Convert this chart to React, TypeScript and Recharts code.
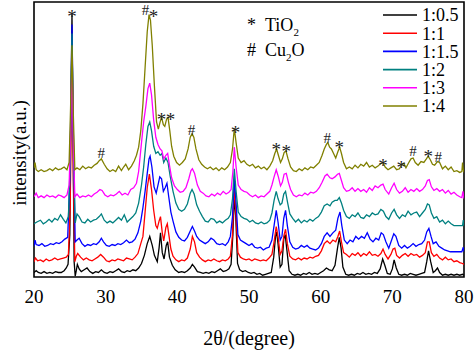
import { LineChart, Line, XAxis, YAxis, Scatter, ReferenceArea } from 'recharts'

// 2θ / intensity pairs (arbitrary units, offset stack)
const s05: [number, number][] = [
  [20, 5], [20.3, 7], [20.6, 5], [21, 4], [21.4, 6], [21.8, 4], [22.2, 5], [22.6, 4], [23, 6], [23.4, 5],
  [23.8, 5], [24.2, 7], [24.5, 10], [24.75, 14], [25, 47], [25.15, 187], [25.3, 292], [25.45, 157], [25.6, 17],
  [25.75, 1], [25.9, 7], [26.05, 14], [26.3, 9], [26.6, 6], [27, 8], [27.4, 10], [27.8, 6], [28.2, 4], [28.6, 6],
  [29, 5], [29.4, 8], [29.8, 5], [30.2, 4], [30.6, 6], [31, 5], [31.4, 7], [31.8, 9], [32.2, 6], [32.6, 5], [33, 7],
  [33.4, 6], [33.8, 8], [34.2, 7], [34.6, 10], [35, 15], [35.4, 24], [35.8, 37], [36.15, 45], [36.5, 35], [36.8, 24],
  [37.2, 17], [37.45, 32], [37.65, 49], [37.9, 27], [38.15, 20], [38.45, 35], [38.65, 39], [38.9, 22], [39.3, 13],
  [39.7, 8], [40.2, 5], [40.6, 6], [41, 5], [41.4, 7], [41.8, 10], [42.1, 14], [42.4, 11], [42.8, 6], [43.2, 5],
  [43.6, 4], [44, 5], [44.4, 4], [44.8, 6], [45.2, 5], [45.6, 7], [46, 9], [46.4, 6], [46.8, 7], [47.2, 9], [47.5, 14],
  [47.75, 47], [47.95, 90], [48.15, 67], [48.4, 15], [48.7, 8], [49.1, 6], [49.5, 7], [49.9, 5], [50.3, 4], [50.7, 5],
  [51.1, 3], [51.5, 4], [51.9, 2], [52.3, 3], [52.7, 4], [53.1, 5], [53.45, 22], [53.7, 45], [53.85, 50], [54.05, 37],
  [54.35, 11], [54.6, 14], [54.85, 42], [55.05, 47], [55.3, 29], [55.6, 7], [56, 3], [56.4, 2], [56.8, 3], [57.2, 2],
  [57.6, 4], [58, 3], [58.4, 5], [58.8, 3], [59.2, 4], [59.6, 3], [60, 5], [60.4, 7], [60.8, 10], [61.2, 8], [61.6, 7],
  [62, 13], [62.35, 32], [62.6, 44], [62.85, 32], [63.1, 11], [63.5, 3], [63.9, 2], [64.3, 3], [64.7, 2], [65.1, 4],
  [65.5, 3], [65.9, 5], [66.3, 3], [66.7, 4], [67.1, 3], [67.5, 5], [67.9, 4], [68.3, 9], [68.65, 20], [68.95, 13],
  [69.3, 4], [69.7, 3], [70, 9], [70.25, 19], [70.55, 10], [70.9, 3], [71.3, 2], [71.7, 3], [72.1, 2], [72.5, 4],
  [72.9, 3], [73.3, 2], [73.7, 3], [74.1, 4], [74.5, 5], [74.8, 17], [75.05, 29], [75.35, 17], [75.7, 5], [76, 7],
  [76.3, 10], [76.6, 5], [77, 2], [77.4, 3], [77.8, 2], [78.2, 3], [78.6, 2], [79, 3], [79.4, 2], [79.8, 3], [80, 2],
]

const s1: [number, number][] = [
  [20, 17], [20.2, 21], [20.5, 18], [20.9, 19], [21.3, 17], [21.7, 20], [22.1, 18], [22.5, 19], [22.9, 21], [23.3, 19],
  [23.7, 20], [24.1, 21], [24.5, 22], [24.8, 25], [25.05, 77], [25.3, 247], [25.5, 107], [25.7, 17], [25.9, 23],
  [26.1, 26], [26.5, 22], [26.9, 19], [27.3, 21], [27.7, 19], [28.1, 18], [28.5, 20], [28.9, 22], [29.3, 25], [29.7, 22],
  [30.1, 18], [30.5, 17], [30.9, 19], [31.3, 18], [31.7, 20], [32.1, 19], [32.5, 18], [32.9, 21], [33.3, 20], [33.7, 19],
  [34.1, 22], [34.5, 26], [34.9, 37], [35.2, 45], [35.5, 72], [35.8, 99], [36.1, 114], [36.4, 97], [36.7, 74], [37, 57],
  [37.2, 54], [37.45, 62], [37.65, 67], [37.9, 49], [38.1, 40], [38.4, 55], [38.6, 59], [38.85, 45], [39.1, 31],
  [39.4, 23], [39.8, 19], [40.2, 17], [40.6, 19], [41, 18], [41.4, 21], [41.8, 31], [42.1, 45], [42.4, 39], [42.7, 27],
  [43.1, 22], [43.5, 19], [43.9, 17], [44.3, 19], [44.7, 18], [45.1, 20], [45.5, 18], [45.9, 17], [46.3, 19], [46.7, 18],
  [47.1, 20], [47.4, 23], [47.7, 47], [47.95, 102], [48.2, 67], [48.45, 27], [48.8, 22], [49.2, 20], [49.6, 19], [50, 20],
  [50.4, 18], [50.8, 20], [51.2, 19], [51.6, 18], [52, 19], [52.4, 18], [52.8, 21], [53.2, 25], [53.5, 39], [53.8, 56],
  [54.05, 45], [54.35, 25], [54.6, 29], [54.85, 45], [55.1, 53], [55.35, 37], [55.7, 23], [56.1, 20], [56.5, 19],
  [56.9, 21], [57.3, 19], [57.7, 21], [58.1, 20], [58.5, 22], [58.9, 21], [59.3, 23], [59.7, 24], [60.1, 29], [60.5, 37],
  [60.9, 40], [61.3, 37], [61.7, 41], [62.1, 39], [62.4, 45], [62.65, 51], [62.9, 39], [63.2, 27], [63.6, 25], [64, 22],
  [64.4, 26], [64.8, 24], [65.2, 27], [65.6, 23], [66, 26], [66.4, 24], [66.8, 28], [67.2, 24], [67.6, 25], [68, 23],
  [68.4, 26], [68.7, 31], [69, 25], [69.4, 20], [69.8, 25], [70.1, 31], [70.35, 32], [70.6, 24], [71, 21], [71.4, 24],
  [71.8, 26], [72.2, 23], [72.6, 26], [73, 24], [73.4, 25], [73.8, 22], [74.2, 24], [74.6, 27], [74.9, 39], [75.15, 39],
  [75.45, 27], [75.8, 23], [76.2, 25], [76.6, 21], [77, 19], [77.4, 22], [77.8, 19], [78.2, 20], [78.6, 17], [79, 18],
  [79.4, 16], [79.8, 15], [80, 14],
]

const s15: [number, number][] = [
  [20, 34], [20.15, 41], [20.3, 36], [20.7, 35], [21.1, 37], [21.5, 34], [21.9, 35], [22.3, 37], [22.7, 36], [23.1, 38],
  [23.5, 37], [23.9, 39], [24.3, 42], [24.7, 44], [25, 107], [25.3, 280], [25.5, 157], [25.75, 39], [26, 41], [26.3, 43],
  [26.7, 37], [27.1, 34], [27.5, 36], [27.9, 35], [28.3, 37], [28.7, 36], [29.1, 39], [29.4, 43], [29.7, 39], [30.1, 35],
  [30.5, 34], [30.9, 36], [31.3, 35], [31.7, 37], [32.1, 36], [32.5, 38], [32.9, 41], [33.3, 38], [33.7, 39], [34.1, 42],
  [34.5, 49], [34.9, 62], [35.2, 77], [35.5, 95], [35.8, 115], [36.05, 131], [36.2, 134], [36.45, 122], [36.75, 100],
  [37.05, 93], [37.3, 102], [37.55, 111], [37.8, 109], [38.05, 95], [38.3, 99], [38.55, 104], [38.8, 89], [39.1, 72],
  [39.4, 62], [39.8, 50], [40.2, 44], [40.6, 41], [41, 40], [41.4, 44], [41.8, 51], [42.1, 56], [42.4, 51], [42.7, 45],
  [43.1, 41], [43.5, 39], [43.9, 37], [44.3, 39], [44.7, 43], [45.1, 41], [45.5, 37], [45.9, 36], [46.3, 37], [46.7, 35],
  [47.1, 39], [47.4, 45], [47.7, 67], [47.95, 109], [48.2, 82], [48.45, 47], [48.8, 41], [49.2, 39], [49.6, 37], [50, 35],
  [50.4, 37], [50.8, 33], [51.2, 32], [51.6, 33], [52, 30], [52.4, 32], [52.8, 33], [53.2, 41], [53.5, 57], [53.8, 74],
  [54.05, 61], [54.35, 41], [54.6, 45], [54.85, 65], [55.1, 74], [55.35, 57], [55.7, 39], [56.1, 33], [56.5, 31],
  [56.9, 32], [57.3, 35], [57.7, 33], [58.1, 35], [58.5, 32], [58.9, 31], [59.3, 30], [59.7, 32], [60.1, 37], [60.5, 45],
  [60.9, 49], [61.3, 45], [61.7, 49], [62.1, 52], [62.4, 65], [62.7, 72], [62.95, 57], [63.3, 41], [63.7, 37], [64.1, 41],
  [64.5, 39], [64.9, 45], [65.3, 42], [65.7, 45], [66.1, 43], [66.5, 49], [66.9, 42], [67.3, 39], [67.7, 43], [68.1, 41],
  [68.45, 49], [68.75, 47], [69.1, 39], [69.5, 32], [69.9, 41], [70.2, 48], [70.5, 45], [70.9, 35], [71.3, 32], [71.7, 35],
  [72.1, 32], [72.5, 34], [72.9, 37], [73.3, 34], [73.7, 36], [74.1, 37], [74.5, 41], [74.8, 50], [75.1, 54], [75.4, 45],
  [75.7, 37], [76.1, 39], [76.5, 34], [76.9, 32], [77.3, 30], [77.7, 29], [78.1, 28], [78.5, 28], [78.9, 28], [79.3, 28],
  [79.7, 28], [79.9, 33], [80, 28],
]

const s2: [number, number][] = [
  [20, 59], [20.4, 61], [20.9, 63], [21.3, 59], [21.7, 61], [22.1, 64], [22.5, 61], [22.9, 65], [23.3, 63], [23.7, 69],
  [24.1, 64], [24.45, 60], [24.8, 67], [25.05, 127], [25.3, 270], [25.5, 137], [25.75, 60], [26, 70], [26.3, 67],
  [26.7, 61], [27.1, 60], [27.5, 64], [27.9, 61], [28.3, 63], [28.7, 64], [29.1, 67], [29.4, 70], [29.8, 63], [30.2, 60],
  [30.6, 62], [31, 60], [31.4, 63], [31.8, 66], [32.2, 63], [32.6, 69], [33, 61], [33.4, 64], [33.8, 67], [34.2, 71],
  [34.6, 82], [35, 102], [35.3, 122], [35.6, 147], [35.9, 167], [36.15, 172], [36.4, 162], [36.7, 145], [37, 137],
  [37.3, 139], [37.6, 135], [37.85, 137], [38.1, 127], [38.4, 132], [38.7, 127], [39, 112], [39.4, 95], [39.8, 82],
  [40.2, 75], [40.6, 73], [41, 75], [41.4, 81], [41.8, 93], [42.05, 97], [42.35, 92], [42.7, 80], [43.1, 73], [43.5, 67],
  [43.9, 62], [44.3, 61], [44.7, 65], [45.1, 64], [45.5, 60], [45.9, 62], [46.3, 60], [46.7, 63], [47.1, 65], [47.4, 69],
  [47.7, 87], [47.95, 120], [48.2, 95], [48.5, 72], [48.9, 67], [49.3, 65], [49.7, 64], [50.1, 61], [50.5, 63], [50.9, 60],
  [51.3, 59], [51.7, 61], [52.1, 59], [52.5, 60], [52.9, 63], [53.2, 71], [53.5, 85], [53.8, 95], [54.05, 87], [54.35, 80],
  [54.6, 82], [54.85, 92], [55.1, 95], [55.4, 82], [55.7, 70], [56.1, 65], [56.5, 61], [56.9, 64], [57.3, 60], [57.7, 63],
  [58.1, 61], [58.5, 64], [58.9, 62], [59.3, 65], [59.7, 67], [60.1, 72], [60.5, 79], [60.9, 81], [61.3, 79], [61.6, 83],
  [62, 85], [62.3, 85], [62.6, 88], [62.9, 82], [63.2, 74], [63.6, 67], [64, 65], [64.4, 69], [64.8, 67], [65.2, 71],
  [65.6, 66], [66, 65], [66.4, 69], [66.8, 67], [67.2, 71], [67.6, 69], [68, 70], [68.4, 75], [68.75, 73], [69.1, 67],
  [69.5, 64], [69.9, 71], [70.25, 75], [70.6, 69], [71, 65], [71.4, 69], [71.8, 67], [72.2, 73], [72.6, 69], [73, 71],
  [73.4, 72], [73.8, 67], [74.2, 71], [74.6, 75], [74.9, 81], [75.15, 80], [75.45, 71], [75.8, 65], [76.2, 67], [76.6, 61],
  [77, 63], [77.4, 59], [77.8, 62], [78.2, 59], [78.6, 57], [79, 57], [79.4, 57], [79.8, 57], [79.9, 63], [80, 57],
]

const s3: [number, number][] = [
  [20, 89], [20.3, 93], [20.6, 88], [21, 90], [21.4, 88], [21.8, 91], [22.2, 89], [22.6, 90], [23, 88], [23.4, 91],
  [23.8, 90], [24.2, 88], [24.6, 91], [24.9, 102], [25.1, 157], [25.3, 242], [25.5, 147], [25.7, 89], [26, 92], [26.4, 88],
  [26.8, 90], [27.2, 89], [27.6, 91], [28, 89], [28.4, 92], [28.8, 94], [29.2, 97], [29.5, 96], [29.9, 91], [30.3, 89],
  [30.7, 91], [31.1, 90], [31.5, 92], [31.9, 95], [32.3, 91], [32.7, 93], [33.1, 91], [33.5, 97], [33.9, 99], [34.3, 104],
  [34.6, 117], [35, 149], [35.3, 172], [35.6, 189], [35.9, 209], [36.15, 215], [36.4, 202], [36.7, 174], [37, 155],
  [37.3, 147], [37.6, 142], [37.85, 140], [38.1, 131], [38.4, 135], [38.65, 137], [38.9, 124], [39.2, 110], [39.6, 101],
  [40, 97], [40.4, 94], [40.8, 95], [41.2, 99], [41.6, 109], [41.9, 118], [42.1, 120], [42.4, 115], [42.8, 102], [43.2, 95],
  [43.6, 93], [44, 90], [44.4, 89], [44.8, 92], [45.2, 90], [45.6, 93], [46, 91], [46.4, 95], [46.8, 92], [47.2, 94],
  [47.5, 97], [47.75, 117], [47.95, 144], [48.2, 122], [48.5, 102], [48.9, 97], [49.3, 95], [49.7, 94], [50.1, 91],
  [50.5, 89], [50.9, 91], [51.3, 88], [51.7, 90], [52.1, 89], [52.5, 92], [52.9, 95], [53.2, 102], [53.5, 111], [53.8, 119],
  [54.1, 111], [54.4, 101], [54.65, 105], [54.9, 114], [55.2, 115], [55.5, 105], [55.8, 97], [56.2, 91], [56.6, 89],
  [57, 91], [57.4, 90], [57.8, 93], [58.2, 91], [58.6, 94], [59, 93], [59.4, 95], [59.8, 99], [60.2, 105], [60.6, 112],
  [60.9, 114], [61.3, 110], [61.6, 109], [62, 111], [62.35, 114], [62.6, 115], [62.9, 107], [63.2, 99], [63.6, 95],
  [64, 96], [64.4, 99], [64.8, 95], [65.2, 98], [65.6, 95], [66, 97], [66.4, 94], [66.8, 99], [67.2, 96], [67.6, 101],
  [68, 99], [68.4, 102], [68.7, 103], [69, 97], [69.5, 92], [69.9, 99], [70.25, 104], [70.6, 97], [71, 93], [71.4, 95],
  [71.8, 99], [72.2, 94], [72.6, 97], [73, 95], [73.4, 98], [73.8, 95], [74.2, 97], [74.6, 101], [74.9, 107], [75.15, 108],
  [75.45, 100], [75.8, 96], [76.2, 98], [76.6, 95], [77, 97], [77.4, 93], [77.8, 96], [78.2, 92], [78.6, 94], [79, 91],
  [79.4, 89], [79.7, 88], [79.85, 95], [80, 87],
]

const s4: [number, number][] = [
  [20, 121], [20.15, 127], [20.3, 119], [20.6, 117], [21, 119], [21.4, 117], [21.8, 118], [22.2, 120], [22.6, 118],
  [23, 121], [23.4, 119], [23.8, 120], [24.2, 122], [24.6, 119], [24.9, 127], [25.1, 187], [25.3, 257], [25.5, 177],
  [25.7, 119], [26, 121], [26.4, 119], [26.8, 123], [27.2, 120], [27.6, 122], [28, 121], [28.4, 124], [28.8, 126],
  [29.1, 129], [29.4, 131], [29.8, 125], [30.2, 120], [30.6, 117], [31, 119], [31.4, 117], [31.8, 123], [32.2, 118],
  [32.5, 122], [32.8, 125], [33.2, 119], [33.6, 123], [34, 129], [34.3, 135], [34.6, 144], [34.9, 162], [35.2, 192],
  [35.5, 232], [35.8, 272], [36.05, 291], [36.25, 285], [36.5, 257], [36.8, 212], [37.1, 172], [37.35, 164], [37.6, 172],
  [37.8, 177], [38.05, 169], [38.25, 167], [38.5, 175], [38.7, 177], [38.95, 162], [39.2, 145], [39.5, 134], [39.9, 127],
  [40.3, 124], [40.7, 127], [41.1, 131], [41.5, 142], [41.8, 155], [42.05, 159], [42.3, 155], [42.6, 142], [43, 130],
  [43.4, 125], [43.8, 122], [44.2, 120], [44.6, 122], [45, 119], [45.4, 121], [45.8, 118], [46.2, 121], [46.6, 119],
  [47, 122], [47.4, 127], [47.7, 142], [47.95, 165], [48.2, 149], [48.5, 132], [48.9, 127], [49.3, 129], [49.7, 125],
  [50.1, 123], [50.5, 125], [50.9, 121], [51.3, 123], [51.7, 120], [52.1, 122], [52.5, 119], [52.9, 123], [53.3, 129],
  [53.6, 137], [53.85, 142], [54.1, 135], [54.4, 127], [54.65, 131], [54.9, 138], [55.15, 140], [55.45, 131], [55.8, 122],
  [56.2, 118], [56.6, 117], [57, 120], [57.4, 118], [57.8, 121], [58.2, 119], [58.6, 122], [59, 121], [59.4, 124],
  [59.8, 127], [60.2, 135], [60.5, 142], [60.8, 147], [61, 149], [61.25, 144], [61.5, 142], [61.8, 137], [62.1, 132],
  [62.4, 139], [62.65, 144], [62.9, 137], [63.2, 127], [63.6, 120], [64, 122], [64.4, 120], [64.8, 124], [65.2, 121],
  [65.6, 125], [66, 123], [66.4, 127], [66.8, 122], [67.2, 124], [67.6, 121], [68, 123], [68.4, 126], [68.7, 127],
  [69, 122], [69.4, 119], [69.8, 121], [70.2, 123], [70.6, 119], [71, 120], [71.3, 125], [71.6, 126], [71.9, 121],
  [72.3, 127], [72.6, 131], [72.9, 132], [73.2, 127], [73.6, 124], [74, 128], [74.4, 127], [74.75, 131], [75, 134],
  [75.3, 130], [75.6, 125], [75.9, 124], [76.3, 128], [76.6, 127], [77, 120], [77.4, 123], [77.8, 119], [78.2, 122],
  [78.6, 117], [79, 118], [79.4, 116], [79.7, 117], [79.8, 127], [79.9, 119], [80, 116],
]

const seriesNames = ['1:0.5', '1:1', '1:1.5', '1:2', '1:3', '1:4']
const seriesColors = ['#000000', '#ff0000', '#0000ff', '#008080', '#ff00ff', '#808000']
const seriesData = [s05, s1, s15, s2, s3, s4]

// phase markers above the top pattern
const markT = [25.3, 35.55, 36.67, 37.78, 39.04, 29.4, 41.97, 48.1, 53.8, 55.2, 60.93, 62.6, 68.7, 71.25, 72.9, 75.0, 76.4]
const markV = [295, 297, 295, 181, 180, 138, 164, 166, 147, 145, 155, 149, 130, 127, 140, 140, 133]
const markS = ['*', '#', '*', '*', '*', '#', '#', '*', '*', '*', '#', '*', '*', '*', '#', '*', '#']

const xTicks = [20, 30, 40, 50, 60, 70, 80]

const FONT = "'Liberation Serif', 'Times New Roman', Times, serif"

const MarkShape = (props: any) => {
  const { cx, cy, payload } = props
  const star = payload.m === '*'
  return (
    <text
      x={cx}
      y={cy}
      dy={star ? '0.62em' : '0.36em'}
      textAnchor="middle"
      fontSize={star ? 19 : 15}
      fontFamily={FONT}
      fill="#222"
    >
      {payload.m}
    </text>
  )
}

export default function App() {
  const lines = seriesData.map((arr) => arr.map(([t, v]) => ({ t, v })))
  const marks = markT.map((t, i) => ({ t, v: markV[i], m: markS[i] }))

  return (
    <div style={{ position: 'absolute', left: 0, top: 0, width: 474, height: 363, background: '#fff', fontFamily: FONT }}>
      <LineChart width={474} height={363} margin={{ top: 2, right: 10, bottom: 56, left: 0 }}>
        <XAxis
          dataKey="t"
          type="number"
          domain={[20, 80]}
          ticks={xTicks}
          allowDataOverflow
          axisLine={false}
          tickLine={false}
          tickSize={0}
          tickMargin={13}
          tick={{ fontSize: 19, fill: '#000', fontFamily: FONT }}
          label={{
            content: () => (
              <text x={249} y={345} textAnchor="middle" fontSize={20} fontFamily={FONT} fill="#000">
                2θ/(degree)
              </text>
            ),
          }}
        />
        <YAxis
          type="number"
          domain={[0, 305]}
          allowDataOverflow
          width={34}
          tick={false}
          tickLine={false}
          axisLine={false}
          label={{
            content: () => (
              <text
                x={19}
                y={153}
                transform="rotate(-90 19 153)"
                textAnchor="middle"
                dominantBaseline="central"
                fontSize={19}
                fontFamily={FONT}
                fill="#000"
              >
                intensity(a.u.)
              </text>
            ),
          }}
        />
        {lines.map((d, i) => (
          <Line
            key={seriesNames[i]}
            data={d}
            dataKey="v"
            name={seriesNames[i]}
            type="linear"
            stroke={seriesColors[i]}
            strokeWidth={1.3}
            dot={false}
            isAnimationActive={false}
          />
        ))}
        <Scatter data={marks} dataKey="v" shape={<MarkShape />} isAnimationActive={false} />
        <ReferenceArea x1={20} x2={80} y1={0} y2={305} fill="none" stroke="#000" strokeWidth={1.6} />
      </LineChart>

      {/* phase key */}
      <div style={{ position: 'absolute', left: 247, top: 13, fontSize: 18, color: '#000' }}>
        <div style={{ height: 25, lineHeight: '25px', whiteSpace: 'nowrap' }}>
          <span style={{ display: 'inline-block', width: 18 }}>*</span>TiO
          <sub style={{ fontSize: 11, lineHeight: 0 }}>2</sub>
        </div>
        <div style={{ height: 25, lineHeight: '25px', whiteSpace: 'nowrap' }}>
          <span style={{ display: 'inline-block', width: 18 }}>#</span>Cu
          <sub style={{ fontSize: 11, lineHeight: 0 }}>2</sub>O
        </div>
      </div>

      {/* series legend */}
      <svg width={95} height={120} style={{ position: 'absolute', left: 378, top: 0 }}>
        {seriesNames.map((n, i) => {
          const y = 15 + i * 18.2
          return (
            <g key={n}>
              <line x1={5} x2={39} y1={y} y2={y} stroke={seriesColors[i]} strokeWidth={1.6} />
              <text x={44} y={y} dy="0.35em" fontSize={18} fontFamily={FONT} fill="#000">
                {n}
              </text>
            </g>
          )
        })}
      </svg>
    </div>
  )
}
